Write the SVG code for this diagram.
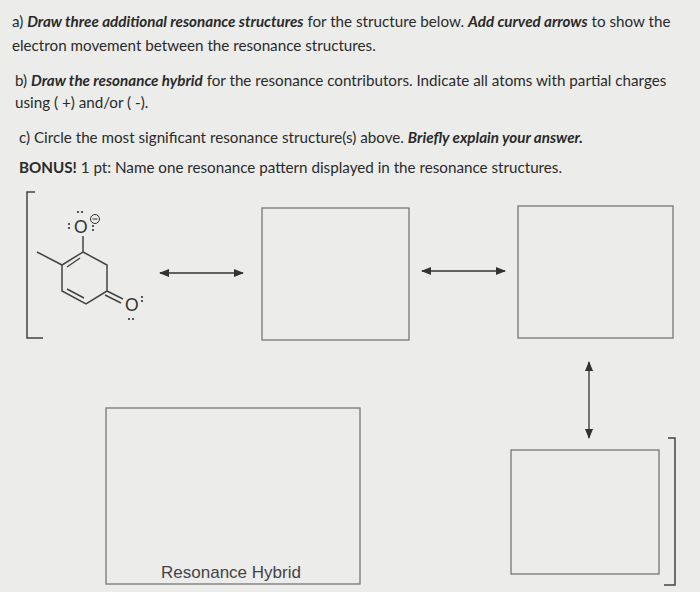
<svg xmlns="http://www.w3.org/2000/svg" width="700" height="592" viewBox="0 0 700 592">
<style>
.t{font-family:Lato,"Open Sans",sans-serif;font-size:15.2px;fill:#2a2a2a}
.b{font-weight:bold;font-style:italic}
.box{fill:none;stroke:#777;stroke-width:1.3}
.bond{fill:none;stroke:#444;stroke-width:1.5}
.ar{stroke:#333;stroke-width:1.3;marker-start:url(#h);marker-end:url(#h)}
.dot{fill:#333}
</style>
<defs><marker id="h" markerWidth="10" markerHeight="8" refX="9" refY="4" orient="auto-start-reverse" markerUnits="userSpaceOnUse"><path d="M0,0L10,4L0,8z" fill="#333"/></marker></defs>
<rect width="700" height="592" fill="#ececea"/>
<g id="text">
<text class="t" x="12" y="27">a) <tspan class="b">Draw three additional resonance structures</tspan> for the structure below. <tspan class="b">Add curved arrows</tspan> to show the</text>
<text class="t" x="12" y="51">electron movement between the resonance structures.</text>
<text class="t" x="15" y="86">b) <tspan class="b">Draw the resonance hybrid</tspan> for the resonance contributors.  Indicate all atoms with partial charges</text>
<text class="t" x="15" y="108">using ( +) and/or ( -).</text>
<text class="t" x="19" y="143">c) Circle the most significant resonance structure(s) above. <tspan class="b">Briefly explain your answer.</tspan></text>
<text class="t" x="19" y="173"><tspan font-weight="bold">BONUS!</tspan> 1 pt:  Name one resonance pattern displayed in the resonance structures.</text>
</g>
<g id="molecule">
<path class="bond" d="M35,192H27V338H43"/>
<path class="bond" d="M83,252L107,265V291L86,304L62,291V265Z"/>
<path class="bond" d="M62,265L37,252"/>
<path class="bond" d="M83,252V236"/>
<path class="bond" d="M80,258L67,267M67,289L84,298"/>
<path class="bond" d="M107,291L123,299M105,295L121,303"/>
<text x="125" y="311" font-family="Lato,sans-serif" font-size="17" fill="#333">O</text>
<text x="74" y="233" font-family="Lato,sans-serif" font-size="17" fill="#333">O</text>
<circle cx="95" cy="219" r="4.5" fill="none" stroke="#333" stroke-width="1"/>
<path d="M92.5,219H97.5" stroke="#333" stroke-width="1"/>
<circle class="dot" cx="78" cy="212" r="1.1"/><circle class="dot" cx="82" cy="212" r="1.1"/>
<circle class="dot" cx="69" cy="224" r="1.1"/><circle class="dot" cx="69" cy="228" r="1.1"/>
<circle class="dot" cx="93" cy="226" r="1.1"/><circle class="dot" cx="93" cy="230" r="1.1"/>
<circle class="dot" cx="142" cy="297" r="1.1"/><circle class="dot" cx="142" cy="301" r="1.1"/>
<circle class="dot" cx="129" cy="319" r="1.1"/><circle class="dot" cx="133" cy="319" r="1.1"/>
</g>
<g id="box1"><rect class="box" x="262" y="208" width="147" height="132"/></g>
<g id="box2"><rect class="box" x="518" y="206" width="155" height="132"/></g>
<g id="hybrid"><rect class="box" x="106" y="408" width="254" height="176"/>
<text x="231" y="578" text-anchor="middle" font-family="Liberation Sans,sans-serif" font-size="17" fill="#444">Resonance Hybrid</text></g>
<g id="box3"><rect class="box" x="511" y="450" width="148" height="124"/>
<path class="bond" d="M668,438H675V585H664" stroke="#888"/></g>
<g id="connectors">
<line class="ar" x1="160" y1="273" x2="243" y2="273"/>
<line class="ar" x1="422" y1="271" x2="505" y2="271"/>
<line class="ar" x1="589" y1="362" x2="589" y2="438"/>
</g>
</svg>
